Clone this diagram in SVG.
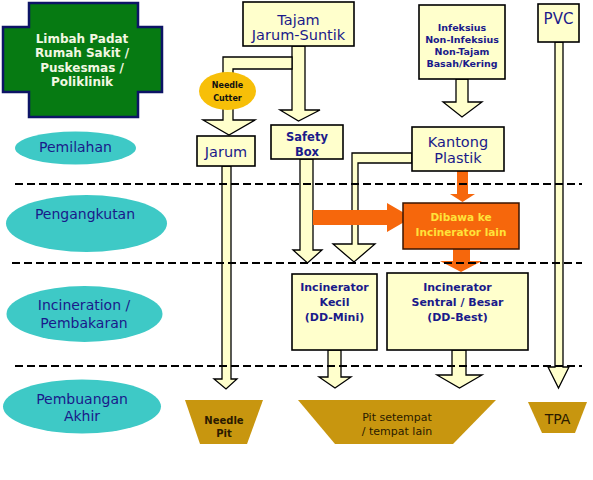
<svg xmlns="http://www.w3.org/2000/svg" width="593" height="480" viewBox="0 0 593 480">
<style>
.box{fill:#ffffcc;stroke:#000;stroke-width:1.6}
.arr{fill:#ffffcc;stroke:#000;stroke-width:1.3;stroke-linejoin:miter}
.org{fill:#f6670c}
.stage{fill:#3ec9c6}
.pit{fill:#c8960f}
.t{font-family:"DejaVu Sans",Verdana,sans-serif;fill:#1a1a8a;text-anchor:middle}
.b{font-weight:bold}
.dash{stroke:#000;stroke-width:2;stroke-dasharray:8 4;fill:none}
</style>
<rect width="593" height="480" fill="#fff"/>

<g id="connectors">
  <!-- Tajam -> Safety Box -->
  <polygon class="arr" points="292,46 305,46 305,110 320,110 298.5,121 280,110 292,110"/>
  <!-- Tajam -> Needle Cutter branch -->
  <polygon class="arr" points="292,57 223,57 223,85 233,85 233,69 292,69"/>
  <!-- Needle Cutter -> Jarum -->
  <polygon class="arr" points="223,106 233,106 233,120 255,120 229,135 203,120 223,120"/>
  <!-- Jarum -> Needle Pit -->
  <polygon class="arr" points="222,166 231,166 231,379 237,379 226,389 214,379 222,379"/>
  <!-- Safety Box -> Incinerator Kecil -->
  <polygon class="arr" points="300,159 313,159 313,250 322,250 307.5,263 293,250 300,250"/>
  <!-- Kantong Plastik -> Incinerator Kecil -->
  <polygon class="arr" points="412,153 352,153 352,244 333,244 354,262 375,244 358,244 358,163 412,163"/>
  <!-- Infeksius -> Kantong Plastik -->
  <polygon class="arr" points="456,79 468,79 468,102 482,102 462,117 443,102 456,102"/>
  <!-- PVC -> TPA -->
  <polygon class="arr" points="555,42 563,42 563,367 569,367 558.5,388 548,367 555,367"/>
  <!-- Incinerator Kecil -> Pit -->
  <polygon class="arr" points="328,350 341,350 341,377 351,377 335,388 319,377 328,377"/>
  <!-- Incinerator Sentral -> Pit -->
  <polygon class="arr" points="452,350 466,350 466,375 482,375 459.5,388 437,375 452,375"/>
  <!-- orange arrows -->
  <polygon class="org" points="313,210 387,210 387,203 412,217.5 387,232 387,225 313,225"/>
  <polygon class="org" points="457,171 468,171 468,194 475,194 462.5,202 450,194 457,194"/>
  <polygon class="org" points="453,248 470,248 470,261 482,261 461,272 440,261 453,261"/>
</g>

<g id="limbah">
  <polygon points="29,3 138,3 138,27 162,27 162,92 138,92 138,117 29,117 29,92 3,92 3,27 29,27" fill="#067a12" stroke="#0d1466" stroke-width="2.5"/>
  <text class="t b" font-size="12" style="fill:#f2f7e2"><tspan x="82" y="42.5">Limbah Padat</tspan><tspan x="82" y="57">Rumah Sakit /</tspan><tspan x="82" y="71.5">Puskesmas /</tspan><tspan x="82" y="86">Poliklinik</tspan></text>
</g>

<g id="tajam">
  <rect class="box" x="243" y="2" width="111" height="44"/>
  <text class="t" font-size="14.5"><tspan x="298.5" y="25">Tajam</tspan><tspan x="298.5" y="40">Jarum-Suntik</tspan></text>
</g>

<g id="needle-cutter">
  <ellipse cx="227.5" cy="91" rx="28.5" ry="19" fill="#f7bf08"/>
  <text class="t b" font-size="8" style="fill:#111"><tspan x="227.5" y="88">Needle</tspan><tspan x="227.5" y="101">Cutter</tspan></text>
</g>

<g id="jarum">
  <rect class="box" x="197" y="136" width="58" height="30"/>
  <text class="t" font-size="14.5" x="226" y="157">Jarum</text>
</g>

<g id="safety-box">
  <rect class="box" x="271" y="125" width="72" height="34"/>
  <text class="t b" font-size="11.5"><tspan x="307" y="141">Safety</tspan><tspan x="307" y="156">Box</tspan></text>
</g>

<g id="infeksius">
  <rect class="box" x="419" y="5" width="86" height="74"/>
  <text class="t b" font-size="9.5"><tspan x="462" y="30.5">Infeksius</tspan><tspan x="462" y="42.5">Non-Infeksius</tspan><tspan x="462" y="54.5">Non-Tajam</tspan><tspan x="462" y="66.5">Basah/Kering</tspan></text>
</g>

<g id="kantong">
  <rect class="box" x="412" y="127" width="92" height="44"/>
  <text class="t" font-size="14.5"><tspan x="458" y="147">Kantong</tspan><tspan x="458" y="163">Plastik</tspan></text>
</g>

<g id="pvc">
  <rect class="box" x="538" y="4" width="41" height="38"/>
  <text class="t" font-size="15" x="558.5" y="24">PVC</text>
</g>

<g id="dibawa">
  <rect x="403" y="203" width="116" height="46" fill="#f6670c" stroke="#3a1500" stroke-width="1.5"/>
  <text class="t b" font-size="10.5" style="fill:#ffe23a"><tspan x="461" y="221">Dibawa ke</tspan><tspan x="461" y="236">Incinerator lain</tspan></text>
</g>

<g id="incinerator-kecil">
  <rect class="box" x="292" y="274" width="85" height="76"/>
  <text class="t b" font-size="11"><tspan x="334.5" y="291">Incinerator</tspan><tspan x="334.5" y="306">Kecil</tspan><tspan x="334.5" y="321">(DD-Mini)</tspan></text>
</g>

<g id="incinerator-sentral">
  <rect class="box" x="387" y="273" width="141" height="77"/>
  <text class="t b" font-size="11"><tspan x="457.5" y="291">Incinerator</tspan><tspan x="457.5" y="306">Sentral / Besar</tspan><tspan x="457.5" y="321">(DD-Best)</tspan></text>
</g>

<g id="needle-pit">
  <polygon class="pit" points="185,400 263,400 247,444 200,444"/>
  <text class="t b" font-size="10" style="fill:#2a1a00"><tspan x="224" y="423.5">Needle</tspan><tspan x="224" y="437">Pit</tspan></text>
</g>

<g id="pit-setempat">
  <polygon class="pit" points="298,400 496,400 453,444 335,444"/>
  <text class="t" font-size="11" style="fill:#2a1a00"><tspan x="397" y="421">Pit setempat</tspan><tspan x="397" y="435">/ tempat lain</tspan></text>
</g>

<g id="tpa">
  <polygon class="pit" points="528,402 587,402 575,433 542,433"/>
  <text class="t" font-size="14" style="fill:#2a1a00" x="557.5" y="424">TPA</text>
</g>

<g id="stage-pemilahan">
  <ellipse class="stage" cx="75.5" cy="148" rx="60.5" ry="16.5"/>
  <text class="t" font-size="14" x="75.5" y="152">Pemilahan</text>
</g>
<g id="stage-pengangkutan">
  <ellipse class="stage" cx="86.5" cy="223.5" rx="80.5" ry="28.5"/>
  <text class="t" font-size="14" x="85" y="219">Pengangkutan</text>
</g>
<g id="stage-incineration">
  <ellipse class="stage" cx="84.5" cy="314" rx="78" ry="28"/>
  <text class="t" font-size="14"><tspan x="84" y="310">Incineration /</tspan><tspan x="84" y="328">Pembakaran</tspan></text>
</g>
<g id="stage-pembuangan">
  <ellipse class="stage" cx="82" cy="406.5" rx="79" ry="27"/>
  <text class="t" font-size="14"><tspan x="82" y="404">Pembuangan</tspan><tspan x="82" y="421">Akhir</tspan></text>
</g>

<g id="separators">
  <line class="dash" x1="15" y1="184" x2="582" y2="184"/>
  <line class="dash" x1="12" y1="263" x2="582" y2="263"/>
  <line class="dash" x1="15" y1="366" x2="582" y2="366"/>
</g>
</svg>
